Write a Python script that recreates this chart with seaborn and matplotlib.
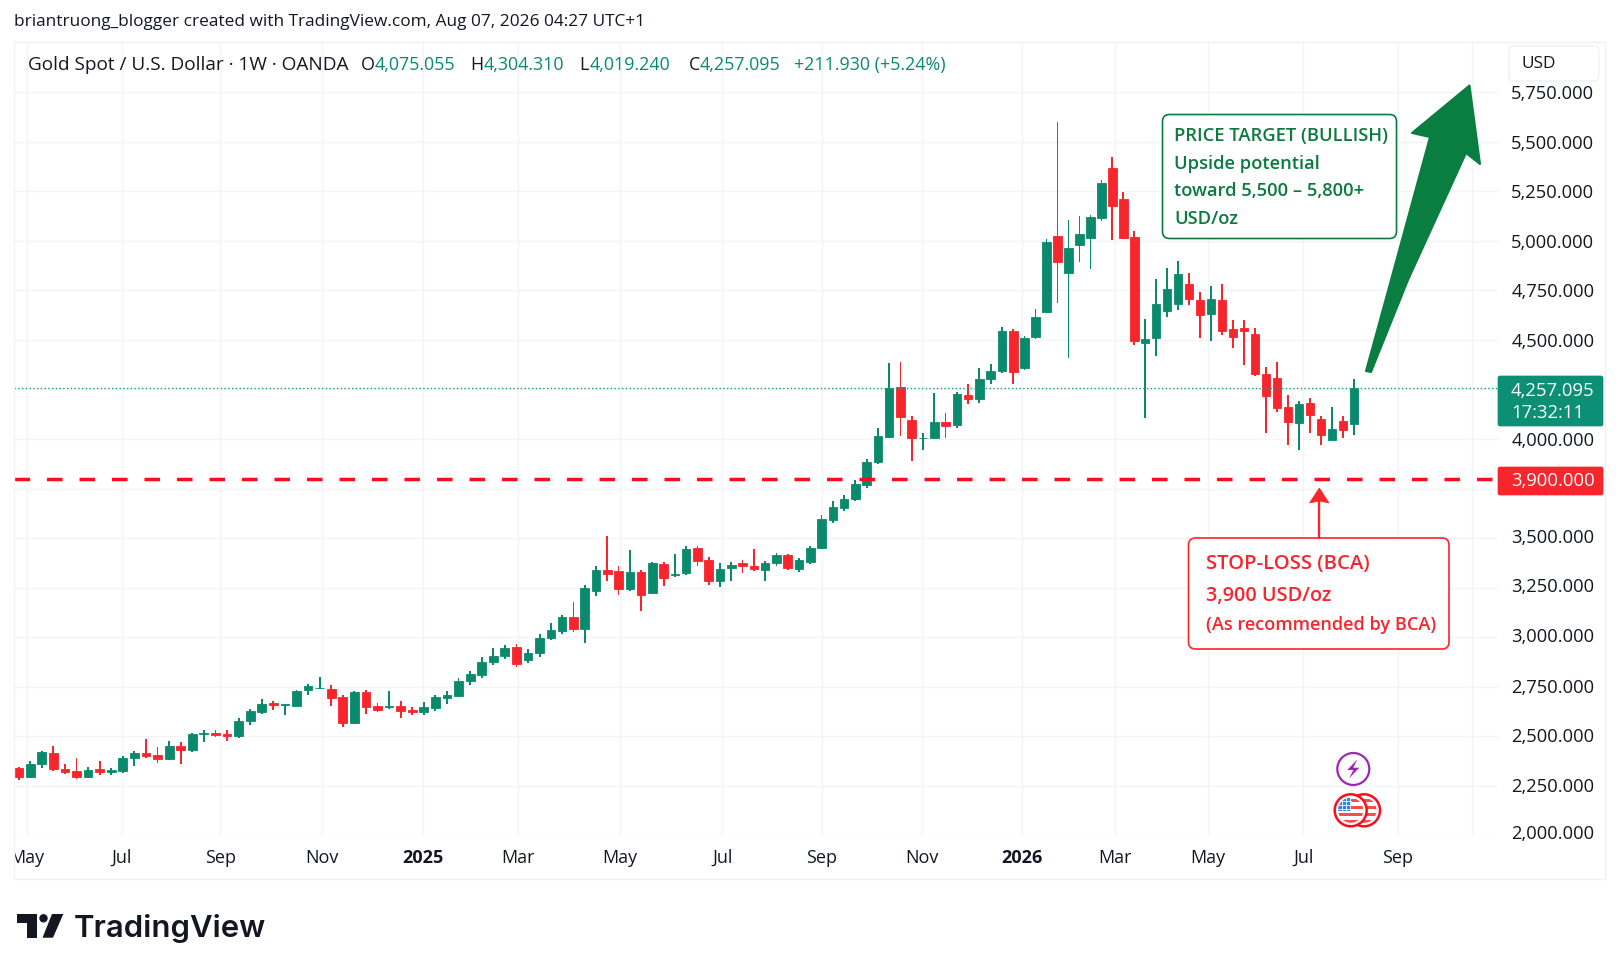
"""
Weekly gold candles with the price target and stop-loss notes on top.
Values are read off the picture, so they are estimates.
"""

import numpy as np
import pandas as pd
import matplotlib
matplotlib.use("Agg")
import matplotlib.pyplot as plt
from matplotlib.patches import Circle, FancyBboxPatch, Polygon, Rectangle
from matplotlib.transforms import Affine2D, Bbox
import seaborn as sns

# Weekly OHLC, first bar is the last week of April 2024
OPENS = [
    2340, 2295, 2360, 2415, 2335, 2325, 2295, 2335, 2322, 2325,
    2390, 2415, 2405, 2385, 2450, 2430, 2510, 2515, 2512, 2500,
    2580, 2625, 2668, 2658, 2655, 2732, 2742, 2740, 2700, 2567,
    2725, 2655, 2648, 2653, 2635, 2623, 2645, 2692, 2705, 2780,
    2812, 2875, 2905, 2949, 2883,
    2920, 2996, 3030, 3100, 3040,
    3235, 3340, 3332, 3243, 3329, 3221, 3369, 3312, 3322, 3448,
    3391, 3282, 3349, 3373, 3358, 3341, 3373, 3413, 3346, 3380,
    3448, 3590, 3650, 3695, 3766, 3885, 4012, 4264, 4096, 4003,
    4005, 4086, 4070, 4222, 4203, 4304,
    4344, 4546, 4356, 4513, 4642, 5022, 4839, 4978, 5014, 5116,
    5367, 5209, 5019, 4486, 4509, 4644, 4681, 4780, 4703, 4630,
    4701, 4553, 4560, 4529, 4326, 4308, 4160, 4079, 4181, 4099,
    3996, 4092, 4075.055,
]
HIGHS = [
    2345, 2375, 2425, 2450, 2360, 2390, 2345, 2375, 2340, 2400,
    2425, 2485, 2445, 2475, 2470, 2515, 2530, 2530, 2530, 2595,
    2640, 2690, 2680, 2663, 2735, 2765, 2800, 2760, 2707, 2727,
    2732, 2667, 2730, 2677, 2650, 2672, 2707, 2727, 2795, 2830,
    2902, 2946, 2959, 2966, 2939,
    3015, 3070, 3110, 3176, 3262,
    3360, 3510, 3357, 3440, 3339, 3378, 3378, 3418, 3458, 3458,
    3403, 3376, 3378, 3390, 3445, 3383, 3423, 3420, 3400, 3462,
    3615, 3687, 3716, 3791, 3899, 4055, 4385, 4386, 4116, 4032,
    4230, 4133, 4235, 4277, 4358, 4376,
    4563, 4553, 4521, 4654, 5007, 5599, 5103, 5125, 5131, 5304,
    5420, 5244, 5047, 4603, 4805, 4862, 4899, 4837, 4740, 4771,
    4780, 4598, 4600, 4558, 4363, 4390, 4220, 4193, 4205, 4116,
    4161, 4116, 4304.31,
]
LOWS = [
    2280, 2290, 2340, 2325, 2310, 2285, 2290, 2305, 2305, 2315,
    2350, 2390, 2365, 2380, 2360, 2420, 2470, 2495, 2475, 2490,
    2555, 2615, 2635, 2610, 2650, 2710, 2738, 2655, 2545, 2563,
    2615, 2625, 2640, 2593, 2610, 2606, 2628, 2662, 2702, 2760,
    2796, 2858, 2890, 2850, 2872,
    2902, 2984, 3018, 3028, 2970,
    3210, 3285, 3215, 3235, 3132, 3216, 3260, 3304, 3312, 3359,
    3265, 3255, 3285, 3322, 3334, 3284, 3359, 3337, 3331, 3371,
    3443, 3578, 3637, 3685, 3754, 3872, 4007, 4017, 3891, 3944,
    3998, 4007, 4055, 4178, 4180, 4279,
    4334, 4279, 4346, 4502, 4637, 4686, 4410, 4892, 4855, 5099,
    5002, 5007, 4472, 4104, 4420, 4613, 4649, 4676, 4507, 4496,
    4524, 4459, 4371, 4318, 4028, 4134, 3968, 3946, 4028, 3970,
    3993, 4003, 4019.24,
]
CLOSES = [
    2295, 2360, 2420, 2335, 2320, 2295, 2330, 2320, 2330, 2390,
    2415, 2400, 2385, 2450, 2430, 2510, 2517, 2505, 2500, 2580,
    2630, 2665, 2658, 2662, 2730, 2755, 2746, 2695, 2565, 2724,
    2650, 2635, 2653, 2628, 2623, 2646, 2697, 2710, 2780, 2813,
    2877, 2907, 2947, 2867, 2922,
    2994, 3037, 3100, 3040, 3248,
    3337, 3320, 3243, 3327, 3215, 3373, 3300, 3319, 3445, 3383,
    3284, 3342, 3363, 3358, 3342, 3373, 3413, 3347, 3388, 3452,
    3598, 3655, 3699, 3773, 3885, 4015, 4255, 4112, 4005, 4007,
    4086, 4067, 4227, 4203, 4304, 4343,
    4546, 4339, 4507, 4617, 4995, 4894, 4965, 5035, 5118, 5289,
    5177, 5015, 4492, 4502, 4679, 4758, 4834, 4706, 4624, 4708,
    4544, 4513, 4544, 4328, 4217, 4155, 4084, 4178, 4119, 4022,
    4050, 4044, 4257.095,
]

MONTH_WEEKS = [0.7, 8.9, 17.4, 26.2, 34.9, 43.1, 52.1, 61.2, 70, 78.9, 87.8, 96.2, 104.7, 113.4, 122, 128.7]
MONTH_LABELS = ["May", "Jul", "Sep", "Nov", "2025", "Mar", "May", "Jul", "Sep", "Nov", "2026", "Mar", "May", "Jul", "Sep", ""]
PRICE_TICKS = [2000, 2250, 2500, 2750, 3000, 3250, 3500, 3750, 4000, 4250, 4500, 4750, 5000, 5250, 5500, 5750]
PRICE_LABELS = ["2,000.000", "2,250.000", "2,500.000", "2,750.000", "3,000.000", "3,250.000", "3,500.000", "",
                "4,000.000", "", "4,500.000", "4,750.000", "5,000.000", "5,250.000", "5,500.000", "5,750.000"]

LAST_PRICE = 4257.095
# the dashed line is labelled 3,900 but in the picture it sits here on the axis
STOP_LINE_ON_AXIS = 3798

GREEN = "#0a8a6c"
RED = "#f7252c"
NOTE_GREEN = "#0b7a3e"
FONT = "Open Sans"
W, H = 1619, 971

# bars are a bit wider on the left of the picture than on the right
WARP_WEEKS = [-0.4, 45, 88, 118, 131.1]
WARP_PIXELS = [14, 539.6, 1024.5, 1354, 1498]

# lower labels sit a few pixels above their gridlines in the picture
LABEL_NUDGE = {"2,000.000": 3.5, "2,250.000": 1, "2,500.000": 1, "2,750.000": 1,
               "3,000.000": 2, "3,250.000": 2.5, "3,500.000": 2.5}


def week_to_px(v):
    return np.interp(v, WARP_WEEKS, WARP_PIXELS)


def px_to_week(v):
    return np.interp(v, WARP_PIXELS, WARP_WEEKS)


sns.set_theme(style="whitegrid", rc={"lines.scale_dashes": False})
plt.rcParams["font.family"] = [FONT, "DejaVu Sans"]

df = pd.DataFrame({"week": range(len(OPENS)), "open": OPENS, "high": HIGHS, "low": LOWS, "close": CLOSES})
df["body_low"] = df[["open", "close"]].min(axis=1)
df["body"] = (df["close"] - df["open"]).abs()
df["wick"] = df["high"] - df["low"]
df["up"] = df["close"] >= df["open"]

fig = plt.figure(figsize=(W / 100, H / 100), dpi=100, facecolor="white")
ax = fig.add_axes([14 / W, (H - 835.5) / H, (1498 - 14) / W, (835.5 - 42.7) / H])
ax.set_axisbelow(True)

for is_up, colour in [(True, GREEN), (False, RED)]:
    part = df[df["up"] == is_up]
    sns.barplot(data=part, x="week", y="wick", bottom=part["low"].to_numpy(), native_scale=True, orient="x",
                width=0.16, color=colour, saturation=1, errorbar=None, linewidth=0, ax=ax)
    sns.barplot(data=part, x="week", y="body", bottom=part["body_low"].to_numpy(), native_scale=True, orient="x",
                width=0.76, color=colour, saturation=1, errorbar=None, linewidth=0.6, edgecolor=colour, ax=ax)

ax.axhline(LAST_PRICE, color="#1a9c82", lw=1, linestyle=(0, (1, 1.7)), zorder=1)
ax.axhline(STOP_LINE_ON_AXIS, color="#fb0d1b", lw=2.5, linestyle=(0, (11.2, 12.2)), zorder=5)

ax.set_xscale("function", functions=(week_to_px, px_to_week))
ax.set_xlim(-0.4, 131.1)
ax.set_ylim(2000, 5999)
ax.set_xticks(MONTH_WEEKS, MONTH_LABELS)
ax.set_yticks(PRICE_TICKS, PRICE_LABELS)
ax.yaxis.tick_right()
ax.set_xlabel("")
ax.set_ylabel("")
ax.grid(True, color="#f3f4f7", lw=1)
ax.minorticks_off()
ax.tick_params(axis="x", length=0, pad=9.7, labelsize=13, labelcolor="#131722")
ax.tick_params(axis="y", length=0, pad=9.5, labelsize=13.2, labelcolor="#131722")
sns.despine(ax=ax, left=True, bottom=True, right=True, top=True)
for label in ax.get_xticklabels():
    if label.get_text() in ("2025", "2026"):
        label.set_fontweight("bold")
for label in ax.get_yticklabels():
    if label.get_text() in LABEL_NUDGE:
        label.set_transform(label.get_transform() + Affine2D().translate(0, LABEL_NUDGE[label.get_text()]))
# the first month is cut by the left edge of the chart
ax.get_xticklabels()[0].set_clip_box(Bbox([[14, 0], [200, H]]))
ax.get_xticklabels()[0].set_clip_on(True)

# everything around the plot is placed in picture pixels
ov = fig.add_axes([0, 0, 1, 1], facecolor="none")
ov.set_xlim(0, W)
ov.set_ylim(H, 0)
ov.axis("off")


def round_box(x0, y0, x1, y1, r, face, edge, lw, z=6):
    ov.add_patch(FancyBboxPatch((x0 + r, y0 + r), x1 - x0 - 2 * r, y1 - y0 - 2 * r,
                                boxstyle=f"round,pad={r},rounding_size={r}",
                                facecolor=face, edgecolor=edge, lw=lw, zorder=z))


ov.add_patch(Rectangle((14, 42), 1605 - 14, 879 - 42, fill=False, edgecolor="#f0f1f4", lw=1, zorder=0))

ov.text(14, 22, "briantruong_blogger created with TradingView.com, Aug 07, 2026 04:27 UTC+1",
        fontsize=12.45, color="#131722", va="center")

# OHLC header
ov.text(28, 65, "Gold Spot / U.S. Dollar · 1W · OANDA", fontsize=13.7, color="#131722", va="center")
header = [
    (361, "O", "#131722"), (375, "4,075.055", GREEN),
    (470, "H", "#131722"), (484, "4,304.310", GREEN),
    (579, "L", "#131722"), (590, "4,019.240", GREEN),
    (689, "C", "#131722"), (700, "4,257.095", GREEN),
    (794, "+211.930 (+5.24%)", GREEN),
]
for x, txt, colour in header:
    ov.text(x, 65, txt, fontsize=12.9, color=colour, va="center")

# USD button and price badges
round_box(1509, 46, 1599, 81, 5, "white", "#f0f1f4", 1)
ov.text(1521, 64.5, "USD", fontsize=12.4, color="#131722", va="center", zorder=7)

round_box(1498, 376, 1603, 426, 2, "#0c8f74", "#0c8f74", 0.5)
ov.text(1511, 390.5, "4,257.095", fontsize=13.3, color="white", va="center", zorder=7)
ov.text(1511, 413, "17:32:11", fontsize=13.3, color="white", va="center", zorder=7)

round_box(1498, 467, 1603, 495, 2, "#f7252c", "#f7252c", 0.5)
ov.text(1511, 481, "3,900.000", fontsize=13.3, color="white", va="center", zorder=7)

# price target note and arrow
round_box(1162.5, 114.5, 1396.5, 238.5, 7, "white", NOTE_GREEN, 1.2)
note_green = ["PRICE TARGET (BULLISH)", "Upside potential", "toward 5,500 – 5,800+", "USD/oz"]
for y, txt in zip([136, 164, 191, 219], note_green):
    ov.text(1174, y, txt, fontsize=13.2, color=NOTE_GREEN, fontweight="semibold", va="center", zorder=7)

big_arrow = [(1366, 371), (1391, 280), (1430, 137), (1412, 133), (1469.5, 85.5), (1480, 164),
             (1466, 153), (1408, 280), (1371, 372)]
ov.add_patch(Polygon(big_arrow, closed=True, facecolor="#0a7e41", edgecolor="#0a7e41", lw=1.5,
                     joinstyle="round", zorder=6))

# stop-loss note and arrow
round_box(1188.5, 538, 1449, 649, 7, "white", RED, 1.2)
ov.text(1206, 564.5, "STOP-LOSS (BCA)", fontsize=14.6, color=RED, fontweight="semibold", va="center", zorder=7)
ov.text(1206, 595.5, "3,900 USD/oz", fontsize=14.3, color=RED, fontweight="semibold", va="center", zorder=7)
ov.text(1206, 625.5, "(As recommended by BCA)", fontsize=13.1, color=RED, fontweight="semibold", va="center", zorder=7)
ov.plot([1319.3, 1319.3], [500, 538], color=RED, lw=1.7, zorder=6)
ov.add_patch(Polygon([(1319.3, 488), (1329, 503), (1319.3, 501), (1309.5, 503)], closed=True,
                     facecolor=RED, edgecolor=RED, lw=0.5, zorder=6))

# purple event icon
ov.add_patch(Circle((1353.3, 769), 16, facecolor="white", edgecolor="#9c27b0", lw=1.6, zorder=6))
bolt = [(1357.3, 759.3), (1347.3, 770), (1353.3, 770), (1349.3, 778.3), (1359.3, 767.7), (1353.3, 767.7)]
ov.add_patch(Polygon(bolt, closed=True, facecolor="#9c27b0", edgecolor="none", zorder=7))

# US flag event icon, two overlapping coins
for cx, z in [(1364, 6), (1350.7, 8)]:
    rim = Circle((cx, 810.3), 16, facecolor="white", edgecolor="#fb0d1b", lw=1.8, zorder=z)
    ov.add_patch(rim)
    clip = Circle((cx, 810.3), 12.5, transform=ov.transData)
    for sy, sh in [(799, 3), (806, 3.5), (813, 3.5), (820, 3.5)]:
        st = Rectangle((cx - 14, sy), 28, sh, facecolor="#fb4a50", edgecolor="none", zorder=z + 0.1)
        ov.add_patch(st)
        st.set_clip_path(clip)
    if z == 8:
        canton = Rectangle((cx - 14, 797), 14, 14.5, facecolor="#2f80ed", edgecolor="none", zorder=z + 0.2)
        ov.add_patch(canton)
        canton.set_clip_path(clip)
        for gx in [1342, 1346, 1350]:
            grid_v = ov.plot([gx, gx], [797, 811.5], color="white", lw=0.6, zorder=z + 0.3)[0]
            grid_v.set_clip_path(clip)
        for gy in [801, 805, 809]:
            grid_h = ov.plot([1336, 1351], [gy, gy], color="white", lw=0.6, zorder=z + 0.3)[0]
            grid_h.set_clip_path(clip)

# TradingView logo
LOGO = "#131722"
ov.add_patch(Polygon([(17.3, 914), (36.7, 914), (36.7, 937.7), (27.3, 937.7), (27.3, 922.7), (17.3, 922.7)],
                     closed=True, facecolor=LOGO, edgecolor="none"))
ov.add_patch(Circle((43.5, 918.3), 4.2, facecolor=LOGO, edgecolor="none"))
ov.add_patch(Polygon([(52, 914), (63.3, 914), (53, 937.7), (42.5, 937.7)], closed=True,
                     facecolor=LOGO, edgecolor="none"))
ov.text(74, 937, "TradingView", fontsize=22.4, fontweight="semibold", color=LOGO, family=["Inter", "DejaVu Sans"],
        va="baseline")

fig.savefig("out.png", dpi=100)
